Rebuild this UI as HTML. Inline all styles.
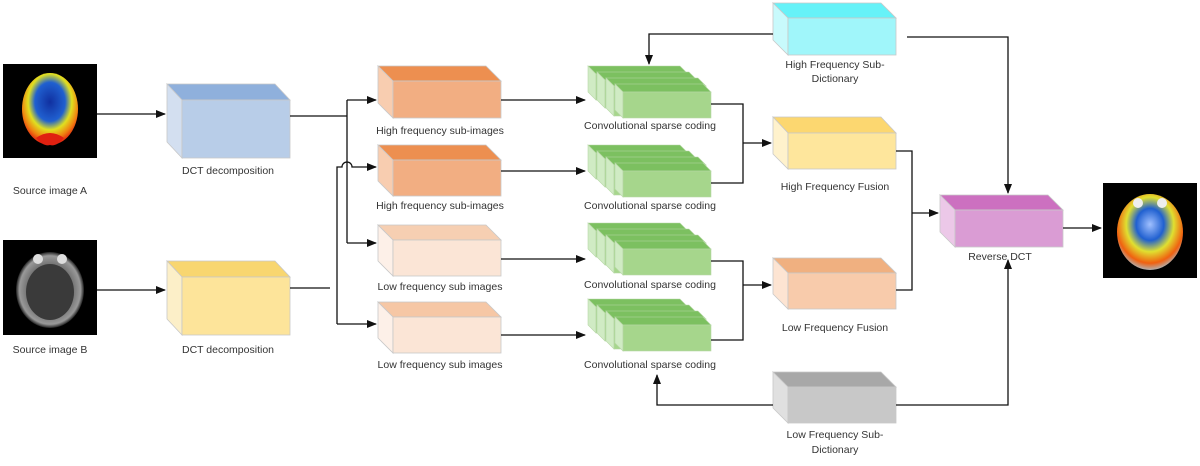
<!DOCTYPE html>
<html><head><meta charset="utf-8"><style>
body{margin:0;background:#fff}
svg text{font-family:"Liberation Sans",sans-serif;font-size:10.5px;fill:#333;text-anchor:middle}
</style></head><body>
<svg width="1200" height="461" viewBox="0 0 1200 461" xmlns="http://www.w3.org/2000/svg">
<defs>
<marker id="a" markerWidth="10" markerHeight="8" refX="9" refY="4" orient="auto" markerUnits="userSpaceOnUse"><path d="M0,0L10,4L0,8z" fill="#111"/></marker>
<radialGradient id="pa" cx="50%" cy="40%" r="60%"><stop offset="0" stop-color="#1030a0"/><stop offset="0.45" stop-color="#2060d0"/><stop offset="0.65" stop-color="#e0e020"/><stop offset="0.85" stop-color="#f08010"/><stop offset="1" stop-color="#e02010"/></radialGradient>
<radialGradient id="pb" cx="50%" cy="50%" r="50%"><stop offset="0" stop-color="#333"/><stop offset="0.6" stop-color="#666"/><stop offset="0.9" stop-color="#999"/><stop offset="1" stop-color="#222"/></radialGradient>
<radialGradient id="pc" cx="50%" cy="40%" r="60%"><stop offset="0" stop-color="#a0c0ff"/><stop offset="0.35" stop-color="#2060d0"/><stop offset="0.6" stop-color="#e0e030"/><stop offset="0.85" stop-color="#f06010"/><stop offset="1" stop-color="#b0b0b0"/></radialGradient>
</defs>

<rect x="3" y="64" width="94" height="94" fill="#000"/>
<ellipse cx="50" cy="109" rx="28" ry="36" fill="url(#pa)"/>
<path d="M36,138 Q50,128 64,138 Q56,147 50,145 Q44,147 36,138z" fill="#e02010"/>
<rect x="3" y="240" width="94" height="95" fill="#000"/>
<ellipse cx="50" cy="290" rx="34" ry="38" fill="url(#pb)"/>
<ellipse cx="50" cy="292" rx="24" ry="28" fill="#3a3a3a"/>
<circle cx="38" cy="259" r="5" fill="#ddd"/><circle cx="62" cy="259" r="5" fill="#ddd"/>
<rect x="1103" y="183" width="94" height="95" fill="#000"/>
<ellipse cx="1150" cy="232" rx="33" ry="38" fill="url(#pc)"/>
<circle cx="1138" cy="203" r="5" fill="#eee"/><circle cx="1162" cy="203" r="5" fill="#eee"/>

<g stroke="#c8c8c8" stroke-width="0.8">
<path d="M167,84h108l15,16h-108z" fill="#8fb0dc"/><path d="M167,84l15,16v58l-15,-16z" fill="#d3dff0"/><rect x="182" y="100" width="108" height="58" fill="#b8cde8"/>
<path d="M167,261h108l15,16h-108z" fill="#f8d670"/><path d="M167,261l15,16v58l-15,-16z" fill="#fcefc8"/><rect x="182" y="277" width="108" height="58" fill="#fde49a"/>
<path d="M378,66h108l15,15h-108z" fill="#ed8f50"/><path d="M378,66l15,15v37l-15,-15z" fill="#f8cdb0"/><rect x="393" y="81" width="108" height="37" fill="#f2ae82"/>
<path d="M378,145h108l15,15h-108z" fill="#ed8f50"/><path d="M378,145l15,15v36l-15,-15z" fill="#f8cdb0"/><rect x="393" y="160" width="108" height="36" fill="#f2ae82"/>
<path d="M378,225h108l15,15h-108z" fill="#f6cfb2"/><path d="M378,225l15,15v36l-15,-15z" fill="#fdf0e8"/><rect x="393" y="240" width="108" height="36" fill="#fbe5d6"/>
<path d="M378,302h108l15,15h-108z" fill="#f6c7a5"/><path d="M378,302l15,15v36l-15,-15z" fill="#fdf0e8"/><rect x="393" y="317" width="108" height="36" fill="#fbe5d6"/>
<path d="M773,3h108l15,15h-108z" fill="#66f2f8"/><path d="M773,3l15,15v37l-15,-15z" fill="#c8fafc"/><rect x="788" y="18" width="108" height="37" fill="#a0f6fa"/>
<path d="M773,117h108l15,16h-108z" fill="#fcd770"/><path d="M773,117l15,16v36l-15,-15z" fill="#fff2cc"/><rect x="788" y="133" width="108" height="36" fill="#fee69c"/>
<path d="M773,258h108l15,15h-108z" fill="#f0b080"/><path d="M773,258l15,15v36l-15,-15z" fill="#fde4d2"/><rect x="788" y="273" width="108" height="36" fill="#f8cbab"/>
<path d="M773,372h108l15,15h-108z" fill="#a8a8a8"/><path d="M773,372l15,15v36l-15,-15z" fill="#e0e0e0"/><rect x="788" y="387" width="108" height="36" fill="#c8c8c8"/>
<path d="M940,195h108l15,15h-108z" fill="#cc70c0"/><path d="M940,195l15,15v37l-15,-15z" fill="#ecc8e8"/><rect x="955" y="210" width="108" height="37" fill="#da9cd4"/>
</g>

<g stroke="#b8d8a8" stroke-width="0.6">
<g id="g1">
<path d="M588,66h92l8,8h-92z" fill="#7cc060"/><path d="M588,66l8,8v26l-8,-8z" fill="#d0ebc4"/><rect x="596" y="74" width="92" height="26" fill="#a6d68c"/>
<path d="M597,72h92l8,8h-92z" fill="#7cc060"/><path d="M597,72l8,8v28l-8,-8z" fill="#d0ebc4"/><rect x="605" y="80" width="92" height="28" fill="#a6d68c"/>
<path d="M606,78h92l8,8h-92z" fill="#7cc060"/><path d="M606,78l8,8v30l-8,-8z" fill="#d0ebc4"/><rect x="614" y="86" width="92" height="30" fill="#a6d68c"/>
<path d="M615,84h88l8,8h-88z" fill="#7cc060"/><path d="M615,84l8,8v26l-8,-8z" fill="#d0ebc4"/><rect x="623" y="92" width="88" height="26" fill="#a6d68c"/>
</g>
<use href="#g1" y="79"/>
<use href="#g1" y="157"/>
<use href="#g1" y="233"/>
</g>

<g stroke="#111" stroke-width="1.3" fill="none">
<path d="M97,114H165" marker-end="url(#a)"/>
<path d="M97,290H165" marker-end="url(#a)"/>
<path d="M290,116H347"/>
<path d="M347,100V243"/>
<path d="M347,100H376" marker-end="url(#a)"/>
<path d="M347,243H376" marker-end="url(#a)"/>
<path d="M290,288H330"/>
<path d="M337,324V167H342a5,5 0 0 1 10,0H376" marker-end="url(#a)"/>
<path d="M337,324H376" marker-end="url(#a)"/>
<path d="M501,100H585" marker-end="url(#a)"/>
<path d="M501,171H585" marker-end="url(#a)"/>
<path d="M501,259H585" marker-end="url(#a)"/>
<path d="M501,335H585" marker-end="url(#a)"/>
<path d="M711,104H743V183H711"/>
<path d="M743,143H771" marker-end="url(#a)"/>
<path d="M711,261H743V340H711"/>
<path d="M743,285H771" marker-end="url(#a)"/>
<path d="M896,151H912V290H896"/>
<path d="M912,213H938" marker-end="url(#a)"/>
<path d="M1063,228H1101" marker-end="url(#a)"/>
<path d="M773,34H649V64" marker-end="url(#a)"/>
<path d="M907,37H1008V193" marker-end="url(#a)"/>
<path d="M773,405H657V375" marker-end="url(#a)"/>
<path d="M896,405H1008V260" marker-end="url(#a)"/>
</g>

<text x="50" y="194">Source image A</text>
<text x="50" y="353">Source image B</text>
<text x="228" y="174">DCT decomposition</text>
<text x="228" y="353">DCT decomposition</text>
<text x="440" y="134">High frequency sub-images</text>
<text x="440" y="209">High frequency sub-images</text>
<text x="440" y="290">Low frequency sub images</text>
<text x="440" y="368">Low frequency sub images</text>
<text x="650" y="129">Convolutional sparse coding</text>
<text x="650" y="209">Convolutional sparse coding</text>
<text x="650" y="288">Convolutional sparse coding</text>
<text x="650" y="368">Convolutional sparse coding</text>
<text x="835" y="68">High Frequency Sub-</text>
<text x="835" y="82">Dictionary</text>
<text x="835" y="190">High Frequency Fusion</text>
<text x="835" y="331">Low Frequency Fusion</text>
<text x="835" y="438">Low Frequency Sub-</text>
<text x="835" y="453">Dictionary</text>
<text x="1000" y="260">Reverse DCT</text>
</svg>
</body></html>
